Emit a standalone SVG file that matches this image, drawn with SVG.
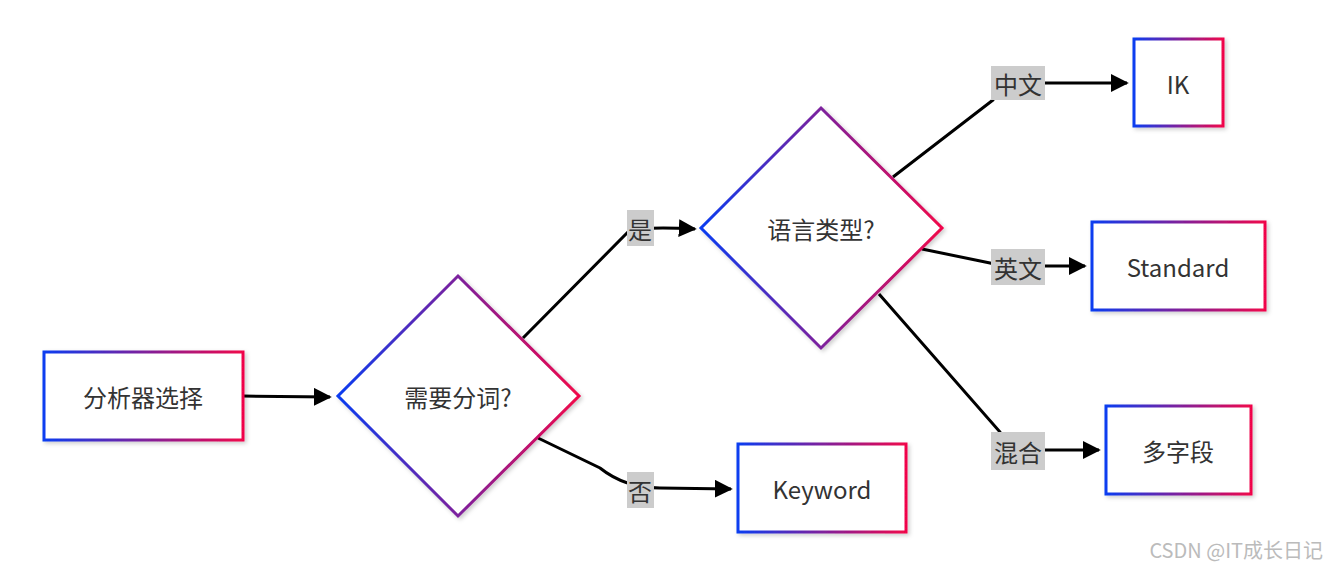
<svg xmlns="http://www.w3.org/2000/svg" width="1328" height="580" viewBox="0 0 1328 580">
<style>
.n{fill:#fff;stroke:url(#g);stroke-width:3;filter:url(#sh)}
.t{font-family:"Noto Sans CJK SC","Liberation Sans",sans-serif;font-size:24px;fill:#333;text-anchor:middle;dominant-baseline:central}
.e{fill:none;stroke:#000;stroke-width:3}
.lb{fill:#ccc}
.lt{font-family:"Noto Sans CJK SC",sans-serif;font-size:24px;fill:#333;text-anchor:middle;dominant-baseline:central}
</style>
<defs>
<linearGradient id="g" x1="0" y1="0" x2="1" y2="0"><stop offset="0" stop-color="#0a3cf0"/><stop offset="1" stop-color="#f0064a"/></linearGradient>
<filter id="sh" x="-10%" y="-10%" width="130%" height="130%"><feDropShadow dx="2" dy="2" stdDeviation="2" flood-opacity="0.2"/></filter>
<marker id="a" viewBox="0 0 10 10" refX="9" refY="5" markerWidth="6" markerHeight="6" orient="auto" markerUnits="strokeWidth"><path d="M0,0L10,5L0,10z" fill="#000"/></marker>
</defs>
<g id="edges">
<path class="e" d="M243,396 L330,397" marker-end="url(#a)"/>
<path class="e" d="M523,338 L628,232 Q640,226 695,229" marker-end="url(#a)"/>
<path class="e" d="M538,438 L600,468 Q625,488 660,488 L731,489" marker-end="url(#a)"/>
<path class="e" d="M893,177 L993,100 Q1000,83 1020,83 L1127,83" marker-end="url(#a)"/>
<path class="e" d="M922,249 L990,263 Q1000,266 1020,266 L1085,266" marker-end="url(#a)"/>
<path class="e" d="M879,294 L1000,432 Q1008,450 1030,450 L1099,450" marker-end="url(#a)"/>
<rect class="lb" x="627" y="210" width="27" height="36"/><text class="lt" x="640" y="228">是</text>
<rect class="lb" x="627" y="472" width="27" height="36"/><text class="lt" x="640" y="490">否</text>
<rect class="lb" x="991" y="66" width="54" height="34"/><text class="lt" x="1018" y="83">中文</text>
<rect class="lb" x="991" y="249" width="54" height="36"/><text class="lt" x="1018" y="267">英文</text>
<rect class="lb" x="991" y="432" width="54" height="38"/><text class="lt" x="1018" y="451">混合</text>
</g>
<g id="n1"><rect class="n" x="44" y="352" width="199" height="88"/><text class="t" x="143" y="396">分析器选择</text></g>
<g id="n2"><path class="n" d="M458,276 L579,396 L458,516 L338,396Z"/><text class="t" x="458" y="396">需要分词?</text></g>
<g id="n3"><path class="n" d="M821,108 L942,228 L821,348 L701,228Z"/><text class="t" x="821" y="228">语言类型?</text></g>
<g id="n4"><rect class="n" x="1134" y="39" width="89" height="87"/><text class="t" x="1178" y="83">IK</text></g>
<g id="n5"><rect class="n" x="1092" y="222" width="173" height="88"/><text class="t" x="1178" y="266">Standard</text></g>
<g id="n6"><rect class="n" x="1106" y="406" width="145" height="88"/><text class="t" x="1178" y="450">多字段</text></g>
<g id="n7"><rect class="n" x="738" y="444" width="168" height="88"/><text class="t" x="822" y="488">Keyword</text></g>
<text x="1323" y="558" font-family="Noto Sans CJK SC,sans-serif" font-size="20" fill="#bbb" text-anchor="end">CSDN @IT成长日记</text>
</svg>
